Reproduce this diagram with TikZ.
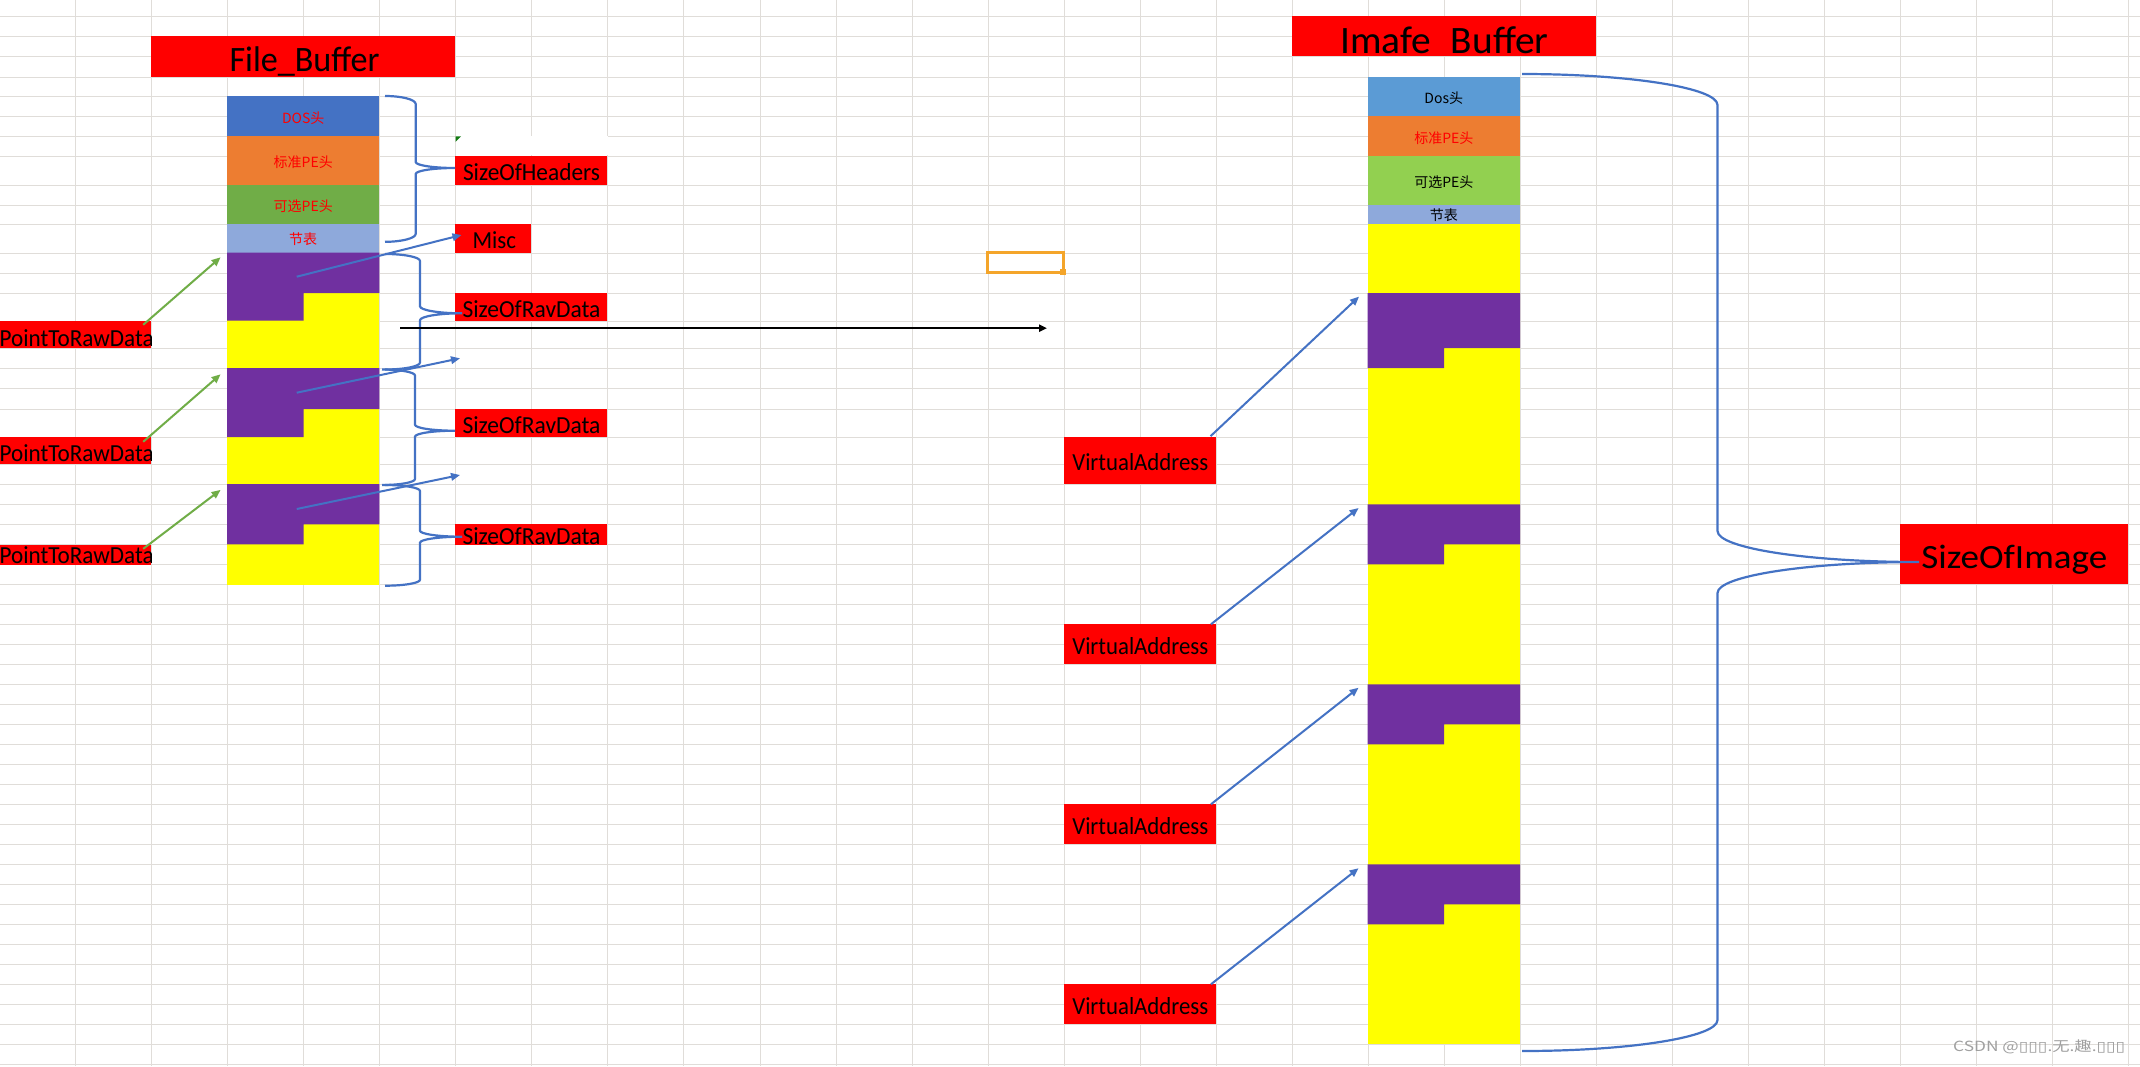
\documentclass[tikz,border=0pt]{standalone}
\usepackage{fontspec}
\usepackage{graphicx}
\usetikzlibrary{arrows.meta,calc,fit}
\newfontfamily\cjk{Noto Sans CJK SC}
\newfontfamily\latf{Carlito}
\newfontfamily\dejavu{DejaVu Sans}
\definecolor{xred}{HTML}{FF0000}
\definecolor{fbdos}{HTML}{4472C4}
\definecolor{xorange}{HTML}{ED7D31}
\definecolor{fbopt}{HTML}{70AD47}
\definecolor{xsec}{HTML}{8EA9DB}
\definecolor{xpurple}{HTML}{7030A0}
\definecolor{xyellow}{HTML}{FFFF00}
\definecolor{imdos}{HTML}{5B9BD5}
\definecolor{imopt}{HTML}{92D050}
\definecolor{xblue}{HTML}{4472C4}
\definecolor{xgreen}{HTML}{70AD47}
\definecolor{xgrid}{HTML}{E0DDD9}
\definecolor{xsel}{HTML}{F4A52A}
\definecolor{wmgray}{HTML}{A0A0A0}
\definecolor{tri}{HTML}{137A13}
\newcommand{\fitl}[3]{\resizebox{#1pt}{\height}{\fontsize{#2pt}{#2pt}\selectfont\latf #3}}
\newcommand{\rbr}[8]{% x0 xm xt ytop ytip ybot ry rt
  \draw[brc] (#1,#4) .. controls ({#1+0.552*(#2-#1)},#4) and (#2,{#4+0.448*#7}) .. (#2,{#4+#7})
    -- (#2,{#5-#8}) .. controls (#2,{#5-0.448*#8}) and ({#3-0.552*(#3-#2)},#5) .. (#3,#5)
    .. controls ({#3-0.552*(#3-#2)},#5) and (#2,{#5+0.448*#8}) .. (#2,{#5+#8})
    -- (#2,{#6-#7}) .. controls (#2,{#6-0.448*#7}) and ({#1+0.552*(#2-#1)},#6) .. (#1,#6);}
\tikzset{
  gridline/.style={draw=xgrid, line width=1pt},
  redbox/.style={fill=xred, draw=none, inner sep=0pt},
  txt/.style={inner sep=0pt, text=black},
  cell/.style={inner sep=0pt, font=\fontsize{14pt}{14pt}\selectfont\cjk},
  brc/.style={draw=xblue, line width=2.2pt},
  barrow/.style={draw=xblue, line width=2pt, -{Triangle[length=9pt,width=7.5pt]}},
  garrow/.style={draw=xgreen, line width=2pt, -{Triangle[length=9pt,width=7.5pt]}},
  karrow/.style={draw=black, line width=2pt, -{Triangle[length=8pt,width=7pt]}},
}
\begin{document}
\begin{tikzpicture}[x=1pt,y=-1pt]
\useasboundingbox (0,0) rectangle (2140,1066);
\fill[white] (0,0) rectangle (2140,1066);
% grid
\foreach \k in {1,...,28} \draw[gridline] ({round(76.05*\k-1)+0.5},0) -- ({round(76.05*\k-1)+0.5},1066);
\foreach \y in {16,36.4,56.3,76.5,96.4,116.3,136.2,156.1,184.5,204.7,224,252.6,272.5,293.1,320.7,348.2,368.1,388.4,409.1,437,464.2,484.1}
  \draw[gridline] (0,{round(\y)+0.5}) -- (2140,{round(\y)+0.5});
\foreach \k in {0,...,28} \draw[gridline] (0,{504.5+20*\k}) -- (2140,{504.5+20*\k});
% white patch with comment marker
\fill[white] (456,135.6) rectangle (608.2,155.4);
\fill[tri] (455.6,136.4) -- (461,136.4) -- (455.6,141.8) -- cycle;

% ---- File buffer column
\fill[fbdos] (227.2,96.4) rectangle (379.3,136.2);
\fill[xorange] (227.2,136.2) rectangle (379.3,184.5);
\fill[fbopt] (227.2,184.5) rectangle (379.3,224);
\fill[xsec] (227.2,224) rectangle (379.3,252.6);
\fill[xyellow] (227.2,252.6) rectangle (379.3,584.6);
\fill[xpurple] (227.2,252.6) -- (379.3,252.6) -- (379.3,293.1) -- (303.6,293.1) -- (303.6,320.7) -- (227.2,320.7) -- cycle;
\fill[xpurple] (227.2,368.1) -- (379.3,368.1) -- (379.3,409.1) -- (303.6,409.1) -- (303.6,437) -- (227.2,437) -- cycle;
\fill[xpurple] (227.2,484.1) -- (379.3,484.1) -- (379.3,524.4) -- (303.6,524.4) -- (303.6,544.4) -- (227.2,544.4) -- cycle;
\node[cell, text=xred] (fdos) at (303.2,118) {DOS头};
\node[cell, text=xred] (fpe) at (303.2,162.4) {标准PE头};
\node[cell, text=xred] (fopt) at (303.2,206.3) {可选PE头};
\node[cell, text=xred] (fsec) at (303.2,239.5) {节表};

% ---- Image buffer column
\fill[imdos] (1367.5,76.5) rectangle (1520,116.3);
\fill[xorange] (1367.5,116.3) rectangle (1520,156.1);
\fill[imopt] (1367.5,156.1) rectangle (1520,204.7);
\fill[xsec] (1367.5,204.7) rectangle (1520,224);
\fill[xyellow] (1367.5,224) rectangle (1520,1044.4);
\foreach \a/\b/\c in {293.1/348.2/368.1, 504.4/544.4/564.4, 684.4/724.4/744.4, 864.4/904.4/924.4}
  \fill[xpurple] (1367.5,\a) -- (1520,\a) -- (1520,\b) -- (1444,\b) -- (1444,\c) -- (1367.5,\c) -- cycle;
\node[cell, text=black] (idos) at (1443.8,98.3) {Dos头};
\node[cell, text=xred] (ipe) at (1443.8,137.8) {标准PE头};
\node[cell, text=black] (iopt) at (1443.8,181.8) {可选PE头};
\node[cell, text=black] (isec) at (1443.8,215.6) {节表};

% ---- red boxes
\node[redbox, fit={(151,36.4) (455.3,76.5)}] (fbt) {};
\node[redbox, fit={(1291.5,16) (1595.7,56.3)}] (ibt) {};
\node[redbox, fit={(455.3,156.1) (607.4,184.5)}] (soh) {};
\node[redbox, fit={(455.3,224) (531.3,252.6)}] (misc) {};
\node[redbox, fit={(455.3,293.1) (607.4,320.7)}] (srd1) {};
\node[redbox, fit={(455.3,409.1) (607.4,437)}] (srd2) {};
\node[redbox, fit={(455.3,524.4) (607.4,544.6)}] (srd3) {};
\node[redbox, fit={(0,320.7) (151,348.2)}] (ptr1) {};
\node[redbox, fit={(0,437) (151,464.2)}] (ptr2) {};
\node[redbox, fit={(0,544.6) (151,564.6)}] (ptr3) {};
\node[redbox, fit={(1063.7,437) (1215.8,484.1)}] (va1) {};
\node[redbox, fit={(1063.7,624.4) (1215.8,664.4)}] (va2) {};
\node[redbox, fit={(1063.7,804.4) (1215.8,844.4)}] (va3) {};
\node[redbox, fit={(1063.7,984.4) (1215.8,1024.4)}] (va4) {};
\node[redbox, fit={(1899.5,524.4) (2128.4,584.4)}] (soi) {};

% ---- texts
\node[txt, anchor=base] (fbtt) at (304.5,71.6) {\fitl{150}{35.7}{File\_Buffer}};
\begin{scope}
  \clip (1291.5,16) rectangle (1595.7,54.1);
  \node[txt, anchor=base] (ibtt) at (1444.5,53.4) {\fitl{208}{38.8}{Imafe\textcolor{xred}{\_}Buffer}};
\end{scope}
\node[txt, anchor=base] (soht) at (531.5,180) {\fitl{137}{24.5}{SizeOfHeaders}};
\node[txt, anchor=base] (misct) at (494.3,248.5) {\fitl{43.5}{24.5}{Misc}};
\node[txt, anchor=base] (srd1t) at (531.5,317) {\fitl{138}{24.5}{SizeOfRavData}};
\node[txt, anchor=base] (srd2t) at (531.5,433) {\fitl{138}{24.5}{SizeOfRavData}};
\node[txt, anchor=base] (srd3t) at (531.5,544) {\fitl{138}{24.5}{SizeOfRavData}};
\begin{scope}
  \clip (0,300) rectangle (151,600);
  \node[txt, anchor=base west] (ptr1t) at (-0.5,346) {\fitl{154}{24.5}{PointToRawData}};
  \node[txt, anchor=base west] (ptr2t) at (-0.5,461) {\fitl{154}{24.5}{PointToRawData}};
  \node[txt, anchor=base west] (ptr3t) at (-0.5,563.6) {\fitl{154}{24.5}{PointToRawData}};
\end{scope}
\node[txt, anchor=base] (va1t) at (1140.3,470) {\fitl{136}{24.5}{VirtualAddress}};
\node[txt, anchor=base] (va2t) at (1140.3,654.4) {\fitl{136}{24.5}{VirtualAddress}};
\node[txt, anchor=base] (va3t) at (1140.3,834) {\fitl{136}{24.5}{VirtualAddress}};
\node[txt, anchor=base] (va4t) at (1140.3,1014.4) {\fitl{136}{24.5}{VirtualAddress}};
\node[txt, anchor=base] (soit) at (2014.3,568.6) {\fitl{186}{34}{SizeOfImage}};

% ---- braces
\rbr{385}{415.7}{455}{96}{168}{241.8}{8}{6}
\rbr{385}{420}{462}{254}{313.3}{369.5}{7}{7}
\rbr{382}{415}{455}{369.5}{430.7}{485}{6}{6}
\rbr{385}{420}{462}{485}{536.7}{585.7}{6}{6}
\rbr{1522}{1717.5}{1919}{74}{562}{1051}{31}{31}

% ---- arrows
\coordinate (gt1) at (220.6,257.3);
\coordinate (gt2) at (220.6,374.3);
\coordinate (gt3) at (220.6,489.9);
\draw[garrow] ($(ptr1.north east)+(-8,4.3)$) -- (gt1);
\draw[garrow] ($(ptr2.north east)+(-8,5)$) -- (gt2);
\draw[garrow] ($(ptr3.north east)+(-8,4.4)$) -- (gt3);

\coordinate (ms1) at (296.7,276.7);
\coordinate (ms2) at (296.7,392.7);
\coordinate (ms3) at (296.7,509);
\coordinate (me2) at (460,358.3);
\coordinate (me3) at (460,475);
\draw[barrow] (ms1) -- ($(misc.west)+(6.4,-3.3)$);
\draw[barrow] (ms2) -- (me2);
\draw[barrow] (ms3) -- (me3);

\coordinate (vt1) at (1359,296.6);
\coordinate (vt2) at (1358.6,508);
\coordinate (vt3) at (1358.6,687.7);
\coordinate (vt4) at (1358.6,868.2);
\draw[barrow] ($(va1.north east)+(-5.5,-0.6)$) -- (vt1);
\draw[barrow] ($(va2.north east)+(-5,0)$) -- (vt2);
\draw[barrow] ($(va3.north east)+(-5,0)$) -- (vt3);
\draw[barrow] ($(va4.north east)+(-5,0)$) -- (vt4);

\coordinate (ka) at (400.4,328.2);
\coordinate (kb) at (1047,328.2);
\draw[karrow] (ka) -- (kb);

% ---- selected cell
\draw[draw=xsel, line width=2.6pt] (987.6,252.4) rectangle (1063.5,272.4);
\fill[xsel] (1060.4,269.3) rectangle (1066,274.8);

% ---- watermark
\node[inner sep=0pt, anchor=base west, text=wmgray] (wm) at (1953,1051)
  {\resizebox{172pt}{\height}{\fontsize{14pt}{14pt}\selectfont\cjk CSDN @{\dejavu ▯▯▯}.无.趣.{\dejavu ▯▯▯}}};
\end{tikzpicture}
\end{document}
